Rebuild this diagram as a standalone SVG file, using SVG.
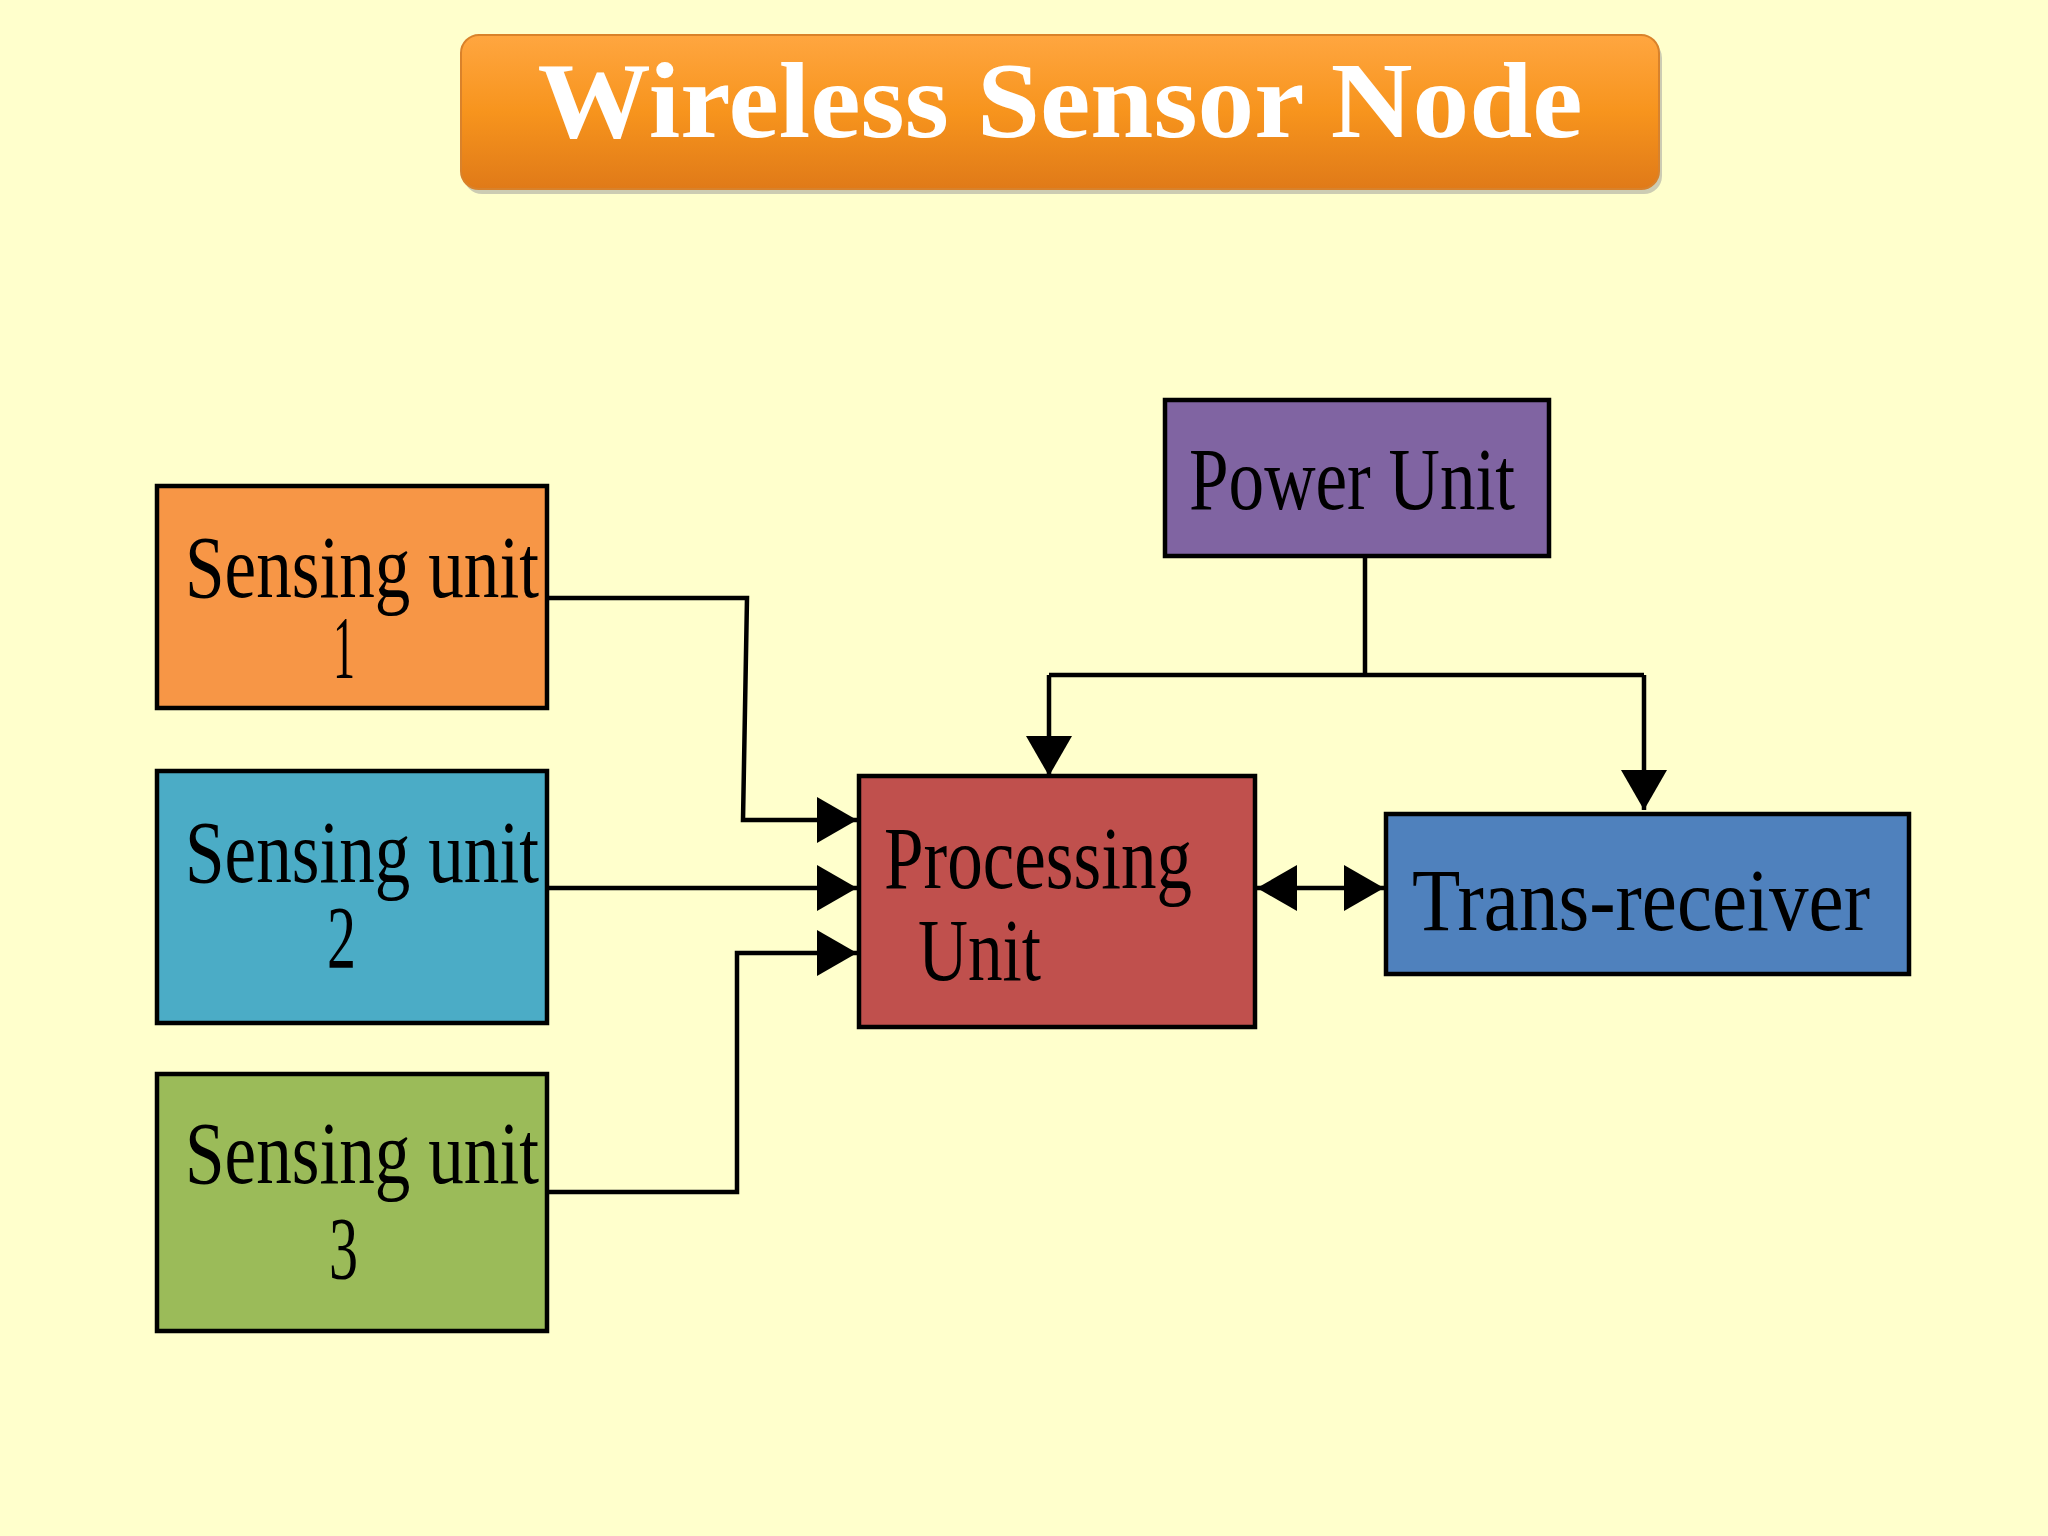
<svg xmlns="http://www.w3.org/2000/svg" width="2048" height="1536" viewBox="0 0 2048 1536">
<defs>
<linearGradient id="tg" x1="0" y1="0" x2="0" y2="1"><stop offset="0" stop-color="#FFA640"/><stop offset="0.5" stop-color="#F7941D"/><stop offset="1" stop-color="#E07A18"/></linearGradient>
<marker id="big" viewBox="0 0 40 46" refX="40" refY="23" markerWidth="40" markerHeight="46" markerUnits="userSpaceOnUse" orient="auto-start-reverse"><path d="M0,0 L40,23 L0,46 z" fill="#000"/></marker>
</defs>
<style>
.box{stroke:#000;stroke-width:4.5}
.t{font-family:"Liberation Serif",serif;font-size:88px;fill:#000}
.c{fill:none;stroke:#000;stroke-width:4.5}
</style>
<rect width="2048" height="1536" fill="#FFFFCC"/>
<g id="title">
<rect x="464" y="40" width="1198" height="154" rx="18" fill="#999" opacity="0.5"/>
<rect x="461" y="35" width="1198" height="154" rx="18" fill="url(#tg)" stroke="#D9822B" stroke-width="2"/>
<text x="1060" y="137" text-anchor="middle" font-family="Liberation Serif,serif" font-weight="bold" font-size="108" fill="#fff" textLength="1045" lengthAdjust="spacingAndGlyphs">Wireless Sensor Node</text>
</g>
<g id="s1"><rect class="box" x="157" y="486" width="390" height="222" fill="#F79646"/>
<text class="t" x="185" y="597" textLength="354" lengthAdjust="spacingAndGlyphs">Sensing unit</text><text class="t" x="333" y="677" font-size="76" textLength="22" lengthAdjust="spacingAndGlyphs">1</text></g>
<g id="s2"><rect class="box" x="157" y="771" width="390" height="252" fill="#4BACC6"/>
<text class="t" x="185" y="882" textLength="354" lengthAdjust="spacingAndGlyphs">Sensing unit</text><text class="t" x="327" y="967" font-size="76" textLength="29" lengthAdjust="spacingAndGlyphs">2</text></g>
<g id="s3"><rect class="box" x="157" y="1074" width="390" height="257" fill="#9BBB59"/>
<text class="t" x="185" y="1183" textLength="354" lengthAdjust="spacingAndGlyphs">Sensing unit</text><text class="t" x="329" y="1278" font-size="76" textLength="29" lengthAdjust="spacingAndGlyphs">3</text></g>
<g id="power"><rect class="box" x="1165" y="400" width="384" height="156" fill="#8064A2"/>
<text class="t" x="1189" y="509" textLength="326" lengthAdjust="spacingAndGlyphs">Power Unit</text></g>
<g id="proc"><rect class="box" x="859" y="776" width="396" height="251" fill="#C0504D"/>
<text class="t" x="884" y="888" textLength="308" lengthAdjust="spacingAndGlyphs">Processing</text><text class="t" x="918" y="980" textLength="123" lengthAdjust="spacingAndGlyphs">Unit</text></g>
<g id="trans"><rect class="box" x="1386" y="814" width="523" height="160" fill="#4F81BD"/>
<text class="t" x="1412" y="930" textLength="458" lengthAdjust="spacingAndGlyphs">Trans-receiver</text></g>
<g id="connectors">
<path class="c" d="M547,598 H747 L743,820 H857" marker-end="url(#big)"/>
<path class="c" d="M547,888 H857" marker-end="url(#big)"/>
<path class="c" d="M547,1192 H737 V953 H857" marker-end="url(#big)"/>
<path class="c" d="M1365,556 V675 M1049,675 H1644"/>
<path class="c" d="M1049,675 V776" marker-end="url(#big)"/>
<path class="c" d="M1644,675 V810" marker-end="url(#big)"/>
<path class="c" d="M1257,888 H1384" marker-start="url(#big)" marker-end="url(#big)"/>
</g>
</svg>
